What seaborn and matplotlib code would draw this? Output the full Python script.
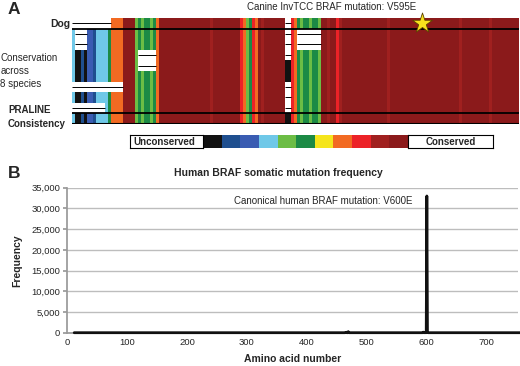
import numpy as np
import matplotlib
matplotlib.use("Agg")
import matplotlib.pyplot as plt
from matplotlib.colors import ListedColormap
from matplotlib.ticker import FuncFormatter
import seaborn as sns

# --- data -------------------------------------------------------------
# PRALINE conservation colours, score 0 (unconserved) .. 10 (conserved)
score_colors = ['#121212', '#1f4f8f', '#3a5cb2', '#6fc8e8', '#6cbd45', '#1c8a45',
                '#f5e51c', '#f26a22', '#ec2227', '#a0201f', '#8b1a1b']

# alignment column scores as (score, run length)
column_runs = [(3, 1), (0, 2), (1, 1), (0, 1), (2, 2), (1, 1), (3, 4), (5, 1), (7, 4),
               (10, 4), (4, 1), (5, 1), (4, 1), (5, 2), (4, 1), (5, 1), (7, 1), (10, 17),
               (9, 1), (10, 9), (8, 1), (7, 1), (4, 1), (5, 1), (8, 1), (7, 1), (10, 1),
               (9, 1), (10, 7), (0, 2), (8, 1), (7, 1), (5, 1), (4, 1), (5, 2), (4, 1),
               (5, 2), (4, 1), (10, 2), (9, 1), (10, 2), (8, 1), (9, 1), (10, 15), (9, 1),
               (10, 23), (9, 1), (10, 9), (9, 1), (10, 9)]

# rows: Dog, 8 species, PRALINE consistency
n_rows = 10
# alignment gaps: (row, first column, end column)
gaps = [(0, 0, 13), (1, 1, 5), (2, 1, 5), (6, 0, 17), (8, 0, 11), (3, 22, 28), (4, 22, 28),
        (0, 71, 73), (1, 71, 73), (2, 71, 73), (3, 71, 73), (6, 71, 73), (7, 71, 73),
        (8, 71, 73), (1, 75, 83), (2, 75, 83)]
star_col = 116  # canine V595E

# human BRAF somatic mutations (COSMIC)
aa_pos = np.arange(12, 767)
mut_counts = {464: 60, 466: 110, 469: 260, 594: 140, 597: 50, 600: 33000, 601: 120}
x_ticks = [0, 100, 200, 300, 400, 500, 600, 700]
y_ticks = [0, 5000, 10000, 15000, 20000, 25000, 30000, 35000]

# --- build ------------------------------------------------------------
col_scores = np.repeat([s for s, n in column_runs], [n for s, n in column_runs])
grid = np.tile(col_scores, (n_rows, 1)).astype(float)
for r, c0, c1 in gaps:
    grid[r, c0:c1] = np.nan

freq = np.zeros(len(aa_pos))
for p, v in mut_counts.items():
    freq[aa_pos == p] = v

sns.set_theme(style="white")
plt.rcParams['font.family'] = ['Liberation Sans', 'DejaVu Sans']

fig = plt.figure(figsize=(5.2, 3.66), dpi=100)
cmap = ListedColormap(score_colors)

# panel A heatmap
ax_a = fig.add_axes([72 / 520, 1 - 124 / 366, 447 / 520, 106 / 366])
sns.heatmap(grid, ax=ax_a, cmap=cmap, vmin=-0.5, vmax=10.5, cbar=False,
            xticklabels=False, yticklabels=False)
ax_a.set_facecolor('white')
for r, c0, c1 in gaps:
    ax_a.hlines(r + 0.5, c0, c1, color='black', lw=0.7)
for yy in [1, 9]:
    ax_a.axhline(yy, color='black', lw=1.3)
ax_a.axhline(n_rows, color='black', lw=1.5)
ax_a.scatter([star_col + 0.5], [0.5], marker='*', s=230, color='#f8e21d',
             edgecolor='#5a4200', linewidth=0.6, zorder=5, clip_on=False)
ax_a.annotate('Canine InvTCC BRAF mutation: V595E', xy=(star_col + 0.5, 0.5),
              xytext=(-4, 11.5), textcoords='offset points', ha='right', va='center',
              fontsize=7, annotation_clip=False)

fig.text(8 / 520, 1 - 10 / 366, 'A', fontsize=12.5, fontweight='bold', va='center')
fig.text(70 / 520, 1 - 24 / 366, 'Dog', fontsize=7.5, fontweight='bold', ha='right', va='center')
fig.text(0.5 / 520, 1 - 71 / 366, 'Conservation\nacross\n8 species', fontsize=7,
         ha='left', va='center', linespacing=1.35)
fig.text(8 / 520, 1 - 117 / 366, 'PRALINE\nConsistency', fontsize=7, fontweight='bold',
         ha='left', va='center', linespacing=1.45)

# colour key
key_b, key_h = 1 - 148 / 366, 13 / 366
ax_k = fig.add_axes([203 / 520, key_b, 205 / 520, key_h])
sns.heatmap(np.arange(len(score_colors))[None, :], ax=ax_k, cmap=cmap, vmin=-0.5,
            vmax=10.5, cbar=False, xticklabels=False, yticklabels=False)
for lbl, x0, w, ha, tx in [('Unconserved', 130, 73, 'left', 0.05),
                           ('Conserved', 408, 85, 'center', 0.5)]:
    axl = fig.add_axes([x0 / 520, key_b, w / 520, key_h])
    axl.set_xticks([])
    axl.set_yticks([])
    for s in axl.spines.values():
        s.set_visible(True)
        s.set_color('black')
        s.set_linewidth(0.8)
    axl.text(tx, 0.45, lbl, transform=axl.transAxes, ha=ha, va='center',
             fontsize=7, fontweight='bold')

# panel B
ax_b = fig.add_axes([67 / 520, 1 - 332.7 / 366, 451 / 520, 145 / 366])
sns.lineplot(x=aa_pos, y=freq, ax=ax_b, color='#111111', lw=2.0, errorbar=None)
for ln in ax_b.lines:
    ln.set_clip_on(False)
    ln.set_zorder(4)
ax_b.set_xlim(0, 752)
ax_b.set_ylim(0, 35000)
ax_b.set_xticks(x_ticks)
ax_b.set_yticks(y_ticks)
ax_b.yaxis.set_major_formatter(FuncFormatter(lambda v, _: f'{int(v):,}'))
ax_b.grid(axis='y', color='#bdbdbd', lw=1)
ax_b.set_axisbelow(True)
for s in ['top', 'right']:
    ax_b.spines[s].set_visible(False)
ax_b.spines['left'].set_color('#999999')
ax_b.spines['bottom'].set_color('#999999')
ax_b.tick_params(axis='y', left=True, length=3, color='#999999', labelsize=6.8, pad=2)
ax_b.tick_params(axis='x', bottom=False, length=0, labelsize=6.8, pad=4)
ax_b.set_xlabel('Amino acid number', fontsize=7.5, fontweight='bold', labelpad=5)
ax_b.set_ylabel('Frequency', fontsize=7.5, fontweight='bold', labelpad=6)
ax_b.annotate('Canonical human BRAF mutation: V600E', xy=(600, 33000), xytext=(-10, -3.5),
              textcoords='offset points', ha='right', va='center', fontsize=7)

fig.text(8 / 520, 1 - 173 / 366, 'B', fontsize=12.5, fontweight='bold', va='center')
fig.text(278 / 520, 1 - 173 / 366, 'Human BRAF somatic mutation frequency', fontsize=7.5,
         fontweight='bold', ha='center', va='center')

fig.savefig('out.png', dpi=100)
